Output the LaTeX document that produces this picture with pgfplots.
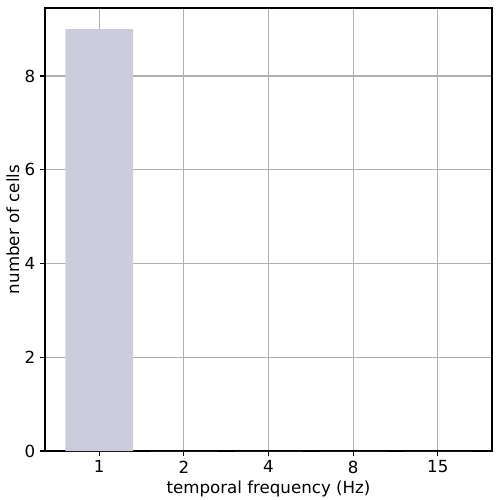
\documentclass[border=0pt]{standalone}
\usepackage{fontspec}
\setmainfont{DejaVu Sans}
\usepackage{pgfplots}
\pgfplotsset{compat=1.18}
\definecolor{barcol}{RGB}{204,204,221}
\definecolor{gridcol}{RGB}{176,176,176}
\begin{document}
\begin{tikzpicture}
\useasboundingbox (-32.4pt,-35.28pt) rectangle (327.6pt,324.72pt);
\begin{axis}[
  at={(0,0)}, anchor=south west,
  scale only axis,
  width=321.84pt, height=318.96pt,
  xmin=-0.64, xmax=4.64, ymin=0, ymax=9.45,
  xtick={0,1,2,3,4}, xticklabels={1,2,4,8,15},
  ytick={0,2,4,6,8},
  grid=major, grid style={draw=gridcol, line width=0.8pt},
  axis line style={line width=0.8pt},
  tick style={black, line width=0.8pt},
  major tick length=3.5pt,
  tick align=outside, xtick pos=bottom, ytick pos=left,
  tick label style={font=\fontsize{12}{14}\selectfont},
  /pgf/number format/assume math mode=true,
  xlabel={temporal frequency (Hz)},
  ylabel={number of cells},
  label style={font=\fontsize{12}{14}\selectfont},
  xlabel style={yshift=1.5pt},
  ylabel style={yshift=-3pt},
]
\addplot[ybar, bar width=0.8, fill=barcol, draw=none, bar shift=0pt]
  coordinates {(0,9) (1,0) (2,0) (3,0) (4,0)};
\end{axis}
\end{tikzpicture}
\end{document}
